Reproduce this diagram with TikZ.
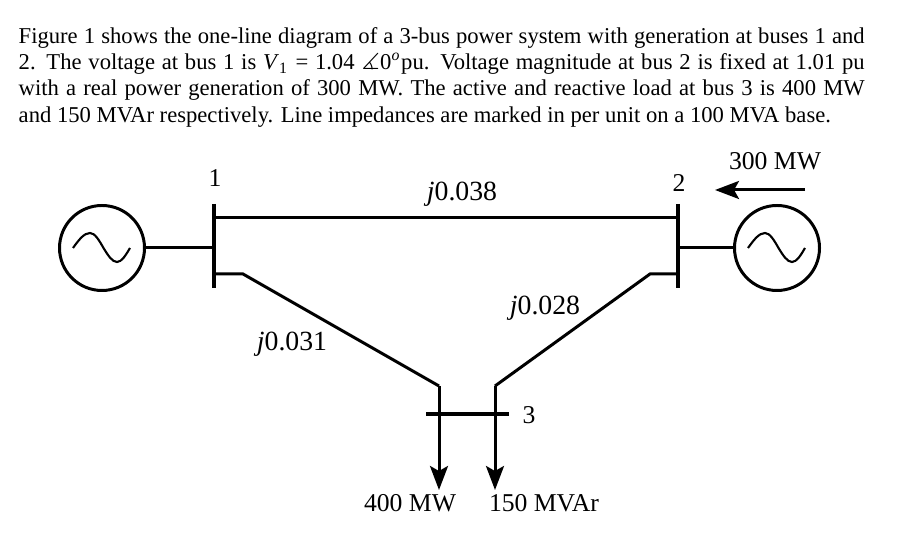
\documentclass[tikz,border=0pt]{standalone}
\usepackage{amssymb,amsmath}
\usepackage{fontspec}
\setmainfont{Liberation Serif}
\usetikzlibrary{arrows.meta}

\begin{document}
\begin{tikzpicture}[
    wire/.style={line width=0.85pt,line join=miter},
    busbar/.style={line width=0.95pt},
    flow/.style={wire,-{Stealth[length=0.24cm,width=0.18cm,inset=0.05cm]}},
    lbl/.style={inner sep=0pt,font=\fontsize{7.3}{8}\selectfont},
    implbl/.style={inner sep=0pt,font=\fontsize{7.9}{8}\selectfont},
    gensym/.style={circle,draw,line width=0.85pt,minimum size=0.85cm,inner sep=0pt,
        path picture={\draw[line width=0.6pt] ([xshift=-0.29cm]path picture bounding box.center)
            sin ++(0.17,0.15) cos ++(0.135,-0.15) sin ++(0.135,-0.14) cos ++(0.13,0.14);}}
]
    \useasboundingbox (0,0) rectangle (9.07,-5.44);
    \node (question) [anchor=north west,inner sep=0pt,text width=8.46cm,align=justify,
        font=\fontsize{6.44}{7.52}\selectfont] at (0.18,-0.265) {Figure 1 shows the one-line diagram of a 3-bus power system with generation at buses 1 and\linebreak
        2. The voltage at bus 1 is \textit{V}\textsubscript{1} = 1.04 \(\measuredangle\)0\textsuperscript{\textit{o}}pu. Voltage magnitude at bus 2 is fixed at 1.01 pu\linebreak
        with a real power generation of 300 MW. The active and reactive load at bus 3 is 400 MW\linebreak
        and 150 MVAr respectively. Line impedances are marked in per unit on a 100 MVA base.};

    % generators
    \node (genone) [gensym] at (1.02,-2.48) {};
    \node (gentwo) [gensym] at (7.77,-2.48) {};

    % bus bars
    \coordinate (busonetop) at (2.14,-2.04);
    \coordinate (busonebot) at (2.14,-2.88);
    \coordinate (bustwotop) at (6.78,-2.04);
    \coordinate (bustwobot) at (6.78,-2.88);
    \coordinate (busthreeleft) at (4.26,-4.14);
    \coordinate (busthreeright) at (5.09,-4.14);
    \draw [busbar] (busonetop) -- (busonebot);
    \draw [busbar] (bustwotop) -- (bustwobot);
    \draw [busbar] (busthreeleft) -- (busthreeright);

    % tappings
    \coordinate (onegen) at (2.14,-2.48);
    \coordinate (twogen) at (6.78,-2.48);
    \coordinate (oneupper) at (2.14,-2.18);
    \coordinate (twoupper) at (6.78,-2.18);
    \coordinate (onelower) at (2.14,-2.74);
    \coordinate (onebend) at (2.43,-2.74);
    \coordinate (twolower) at (6.78,-2.74);
    \coordinate (twobend) at (6.50,-2.74);
    \coordinate (loadp) at (4.39,-3.86);
    \coordinate (loadq) at (4.95,-3.86);
    \coordinate (loadpend) at (4.39,-4.90);
    \coordinate (loadqend) at (4.95,-4.90);

    \draw [wire] (genone.east) -- (onegen);
    \draw [wire] (twogen) -- (gentwo.west);
    \draw [wire] (oneupper) -- (twoupper);
    \draw [wire] (onelower) -- (onebend) -- (loadp);
    \draw [wire] (twolower) -- (twobend) -- (loadq);
    \draw [flow] (loadp) -- (loadpend);
    \draw [flow] (loadq) -- (loadqend);

    % power arrow
    \coordinate (arrowstart) at (8.05,-1.90);
    \coordinate (arrowend) at (7.15,-1.90);
    \draw [flow] (arrowstart) -- (arrowend);

    % labels
    \node (labelone) [lbl] at (2.15,-1.78) {1};
    \node (labeltwo) [lbl] at (6.79,-1.83) {2};
    \node (labelthree) [lbl] at (5.29,-4.15) {3};
    \node (genpower) [lbl] at (7.75,-1.61) {300 MW};
    \node (lineonetwo) [implbl] at (4.62,-1.94) {\textit{j}0.038};
    \node (linetwothree) [implbl] at (5.45,-3.08) {\textit{j}0.028};
    \node (lineonethree) [implbl] at (2.92,-3.44) {\textit{j}0.031};
    \node (loadpower) [lbl] at (4.10,-5.03) {400 MW};
    \node (loadreactive) [lbl] at (5.44,-5.03) {150 MVAr};
\end{tikzpicture}
\end{document}
